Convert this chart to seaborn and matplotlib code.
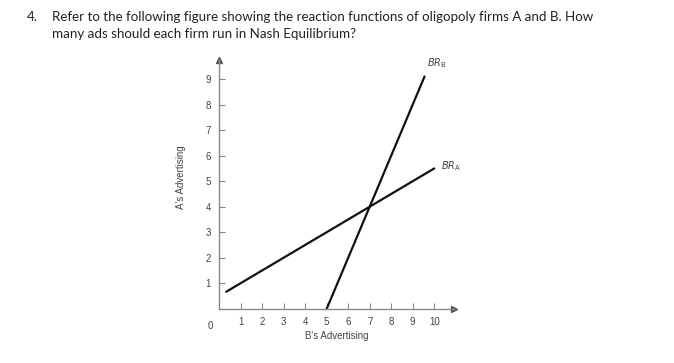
import matplotlib

matplotlib.use("Agg")
import matplotlib.pyplot as plt
import pandas as pd
import seaborn as sns

# reaction functions (B's ads on x, A's ads on y)
br_a_b = [0.33, 10.0]
br_a_a = [0.67, 5.5]
br_b_b = [5.0, 9.55]
br_b_a = [0.0, 9.1]

x_ticks = [1, 2, 3, 4, 5, 6, 7, 8, 9, 10]
y_ticks = [1, 2, 3, 4, 5, 6, 7, 8, 9]

question_no = "4."
question = ("Refer to the following figure showing the reaction functions of oligopoly firms A and B. How\n"
            "many ads should each firm run in Nash Equilibrium?")

sns.set_theme(style="white")
plt.rcParams["font.family"] = ["Liberation Sans", "DejaVu Sans"]

fig = plt.figure(figsize=(6.74, 3.63), dpi=100)
ax = fig.add_axes([0.325, 0.149, 0.348, 0.686])

df_a = pd.DataFrame({"B": br_a_b, "A": br_a_a})
df_b = pd.DataFrame({"B": br_b_b, "A": br_b_a})
sns.lineplot(data=df_a, x="B", y="A", color="#111111", lw=1.6, ax=ax)
sns.lineplot(data=df_b, x="B", y="A", color="#111111", lw=1.6, ax=ax)

ax.set_xlim(0, 10.9)
ax.set_ylim(0, 9.75)
ax.set_xticks(x_ticks)
ax.set_yticks(y_ticks)
ax.tick_params(axis="both", direction="in", length=4, width=0.8, color="#888888",
               labelsize=7, labelcolor="#444444", pad=6)
ax.tick_params(axis="x", bottom=True)
ax.tick_params(axis="y", left=True)

for side in ["top", "right"]:
    ax.spines[side].set_visible(False)
for side in ["left", "bottom"]:
    ax.spines[side].set_color("#888888")
    ax.spines[side].set_linewidth(1.0)

# arrow heads at the ends of the axes
ax.plot(1, 0, ">", transform=ax.transAxes, color="#555555", ms=4, clip_on=False)
ax.plot(0, 1, "^", transform=ax.transAxes, color="#555555", ms=4, clip_on=False)

ax.text(-0.025, -0.048, "0", transform=ax.transAxes, ha="right", va="top",
        fontsize=7, color="#444444")

ax.set_xlabel("B's Advertising", fontsize=7, color="#444444", labelpad=3)
ax.set_ylabel("A's Advertising", fontsize=7, color="#444444")
ax.yaxis.set_label_coords(-0.14, 0.53)

ax.text(br_b_b[1] + 0.1, br_b_a[1] + 0.25, r"$BR_{\mathrm{B}}$", fontsize=7, color="#444444",
        ha="left", va="bottom")
ax.text(br_a_b[1] + 0.3, br_a_a[1] + 0.1, r"$BR_{\mathrm{A}}$", fontsize=7, color="#444444",
        ha="left", va="center")

title_font = ["Lato", "DejaVu Sans"]
fig.text(27 / 674, 1 - 11 / 363, question_no, fontsize=9.6, color="#222222",
         family=title_font, ha="left", va="top")
fig.text(52 / 674, 1 - 11 / 363, question, fontsize=9.6, color="#222222",
         family=title_font, ha="left", va="top", linespacing=1.55)

fig.savefig("out.png", dpi=100)
